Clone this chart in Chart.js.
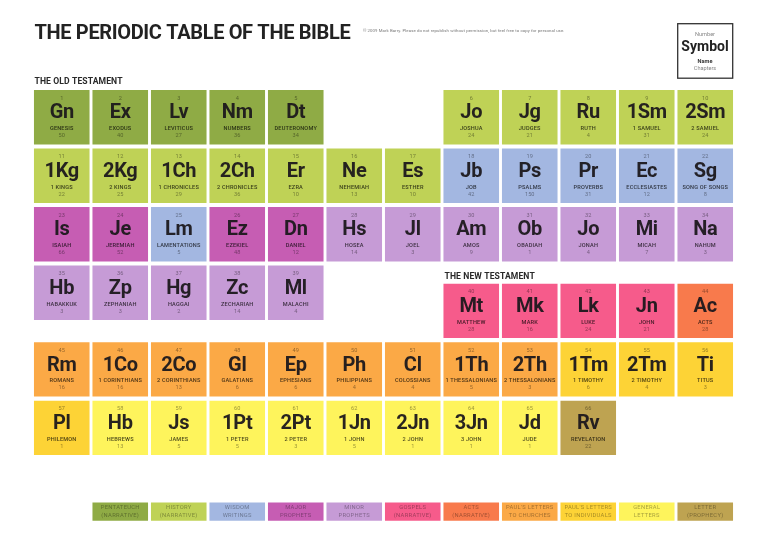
<!DOCTYPE html>
<html>
<head>
<meta charset="utf-8">
<title>The Periodic Table of the Bible</title>
<script src="https://cdn.jsdelivr.net/npm/chart.js@4/dist/chart.umd.js"></script>
<style>
  html, body { margin: 0; padding: 0; background: #fff; }
  canvas { display: block; }
</style>
</head>
<body>
<canvas id="table-chart" width="768" height="543"></canvas>
<script>
const symbols = ['Gn','Ex','Lv','Nm','Dt','Jo','Jg','Ru','1Sm','2Sm',
  '1Kg','2Kg','1Ch','2Ch','Er','Ne','Es','Jb','Ps','Pr','Ec','Sg',
  'Is','Je','Lm','Ez','Dn','Hs','Jl','Am','Ob','Jo','Mi','Na',
  'Hb','Zp','Hg','Zc','Ml',
  'Mt','Mk','Lk','Jn','Ac',
  'Rm','1Co','2Co','Gl','Ep','Ph','Cl','1Th','2Th','1Tm','2Tm','Ti',
  'Pl','Hb','Js','1Pt','2Pt','1Jn','2Jn','3Jn','Jd','Rv'];
const names = ['GENESIS','EXODUS','LEVITICUS','NUMBERS','DEUTERONOMY','JOSHUA','JUDGES','RUTH','1 SAMUEL','2 SAMUEL',
  '1 KINGS','2 KINGS','1 CHRONICLES','2 CHRONICLES','EZRA','NEHEMIAH','ESTHER','JOB','PSALMS','PROVERBS','ECCLESIASTES','SONG OF SONGS',
  'ISAIAH','JEREMIAH','LAMENTATIONS','EZEKIEL','DANIEL','HOSEA','JOEL','AMOS','OBADIAH','JONAH','MICAH','NAHUM',
  'HABAKKUK','ZEPHANIAH','HAGGAI','ZECHARIAH','MALACHI',
  'MATTHEW','MARK','LUKE','JOHN','ACTS',
  'ROMANS','1 CORINTHIANS','2 CORINTHIANS','GALATIANS','EPHESIANS','PHILIPPIANS','COLOSSIANS','1 THESSALONIANS','2 THESSALONIANS','1 TIMOTHY','2 TIMOTHY','TITUS',
  'PHILEMON','HEBREWS','JAMES','1 PETER','2 PETER','1 JOHN','2 JOHN','3 JOHN','JUDE','REVELATION'];
const chapters = [50,40,27,36,34,24,21,4,31,24,
  22,25,29,36,10,13,10,42,150,31,12,8,
  66,52,5,48,12,14,3,9,1,4,7,3,
  3,3,2,14,4,
  28,16,24,21,28,
  16,16,13,6,6,4,4,5,3,6,4,3,
  1,13,5,5,3,5,1,1,1,22];
// index into groupLines for every book
const bookGroups = [0,0,0,0,0,1,1,1,1,1,
  1,1,1,1,1,1,1,2,2,2,2,2,
  3,3,2,3,3,4,4,4,4,4,4,4,
  4,4,4,4,4,
  5,5,5,5,6,
  7,7,7,7,7,7,7,7,7,8,8,8,
  8,9,9,9,9,9,9,9,9,10];
const bookColumns = [1,2,3,4,5,8,9,10,11,12,
  1,2,3,4,5,6,7,8,9,10,11,12,
  1,2,3,4,5,6,7,8,9,10,11,12,
  1,2,3,4,5,
  8,9,10,11,12,
  1,2,3,4,5,6,7,8,9,10,11,12,
  1,2,3,4,5,6,7,8,9,10];
const bookPeriods = [1,1,1,1,1,1,1,1,1,1,
  2,2,2,2,2,2,2,2,2,2,2,2,
  3,3,3,3,3,3,3,3,3,3,3,3,
  4,4,4,4,4,
  5,5,5,5,5,
  6,6,6,6,6,6,6,6,6,6,6,6,
  7,7,7,7,7,7,7,7,7,7];
const columnLabels = ['1','2','3','4','5','6','7','8','9','10','11','12'];
const groupLines = [['PENTATEUCH','(NARRATIVE)'],['HISTORY','(NARRATIVE)'],['WISDOM','WRITINGS'],['MAJOR','PROPHETS'],
  ['MINOR','PROPHETS'],['GOSPELS','(NARRATIVE)'],['ACTS','(NARRATIVE)'],["PAUL'S LETTERS",'TO CHURCHES'],
  ["PAUL'S LETTERS",'TO INDIVIDUALS'],['GENERAL','LETTERS'],['LETTER','(PROPHECY)']];
const groupColors = ['#8fab45','#bfd256','#a3b7e1','#c65db3','#c69bd6','#f65b8b','#f87a4c','#fba946','#fdd336','#fef45c','#bea351'];

// where each period starts on the y axis (new testament row sits between 4 and the next)
const periodTop = [0, 0, 1, 2, 3, 3.31, 4.31, 5.31];
const cellHeight = 0.93;
const legendTop = 7.05;
const legendHeight = 0.31;
const FONT = 'Roboto';

const datasets = groupColors.map((color, g) => {
  const data = [];
  bookGroups.forEach((bg, i) => {
    if (bg === g) {
      const top = periodTop[bookPeriods[i]];
      data.push({ x: columnLabels[bookColumns[i] - 1], y: [top, top + cellHeight] });
    }
  });
  // legend swatch, sits under columns 2..12
  data.push({ x: columnLabels[g + 1], y: [legendTop, legendTop + legendHeight] });
  return { label: groupLines[g].join(' '), data: data, backgroundColor: color, grouped: false };
});

function put(ctx, text, x, y, font, color, align, spacing) {
  ctx.font = font;
  ctx.fillStyle = color;
  ctx.textAlign = align || 'center';
  ctx.letterSpacing = spacing || '0px';
  ctx.fillText(text, x, y);
}

const tableText = {
  id: 'tableText',
  afterDatasetsDraw(chart) {
    const ctx = chart.ctx;
    const xs = chart.scales.x;
    const ys = chart.scales.y;
    ctx.save();
    ctx.textBaseline = 'alphabetic';

    symbols.forEach((sym, i) => {
      const cx = xs.getPixelForValue(bookColumns[i] - 1);
      const top = ys.getPixelForValue(periodTop[bookPeriods[i]]);
      put(ctx, String(i + 1), cx, top + 9.5, '400 5.6px ' + FONT, 'rgba(0,0,0,.42)');
      put(ctx, sym, cx, top + 28.4, '700 20px ' + FONT, 'rgba(28,24,28,.95)', 'center', '-0.3px');
      put(ctx, names[i], cx, top + 40, '500 5.6px ' + FONT, 'rgba(0,0,0,.72)', 'center', '0.18px');
      put(ctx, String(chapters[i]), cx, top + 47, '400 5.6px ' + FONT, 'rgba(0,0,0,.42)');
    });

    groupLines.forEach((lines, g) => {
      const cx = xs.getPixelForValue(g + 1);
      const top = ys.getPixelForValue(legendTop);
      put(ctx, lines[0], cx, top + 6.8, '400 5.8px ' + FONT, 'rgba(0,0,0,.36)', 'center', '0.3px');
      put(ctx, lines[1], cx, top + 14.2, '400 5.8px ' + FONT, 'rgba(0,0,0,.36)', 'center', '0.3px');
    });

    // headings
    put(ctx, 'THE PERIODIC TABLE OF THE BIBLE', 34.5, 38.5, '700 20px ' + FONT, '#222', 'left', '-0.35px');
    put(ctx, 'THE OLD TESTAMENT', 34.5, 83.7, '700 8.6px ' + FONT, '#2a2a2a', 'left', '0.1px');
    put(ctx, 'THE NEW TESTAMENT', 444.5, 278.7, '700 8.6px ' + FONT, '#2a2a2a', 'left', '0.1px');
    put(ctx, '© 2009 Mark Barry. Please do not republish without permission, but feel free to copy for personal use.',
      363, 32, '400 4.3px ' + FONT, '#777', 'left', '0.08px');

    // key box
    ctx.strokeStyle = '#333';
    ctx.lineWidth = 1.3;
    ctx.strokeRect(677.7, 23.7, 55, 54.5);
    put(ctx, 'Number', 705, 36, '400 5.6px ' + FONT, '#888');
    put(ctx, 'Symbol', 705, 50.5, '700 14px ' + FONT, '#222');
    put(ctx, 'Name', 705, 62.5, '700 5.6px ' + FONT, '#333');
    put(ctx, 'Chapters', 705, 69.5, '400 5.6px ' + FONT, '#888');
    ctx.restore();
  }
};

new Chart(document.getElementById('table-chart'), {
  type: 'bar',
  data: { labels: columnLabels, datasets: datasets },
  plugins: [tableText],
  options: {
    responsive: false,
    animation: false,
    devicePixelRatio: 1,
    layout: { padding: { left: 32.5, right: 33.5, top: 90, bottom: 20 } },
    barPercentage: 0.95,
    categoryPercentage: 1,
    borderSkipped: false,
    scales: {
      x: { display: false, offset: true },
      y: { display: false, reverse: true, min: 0, max: 7.4 }
    },
    plugins: {
      legend: { display: false },
      tooltip: { enabled: false },
      title: { display: false }
    }
  }
});
</script>
</body>
</html>
